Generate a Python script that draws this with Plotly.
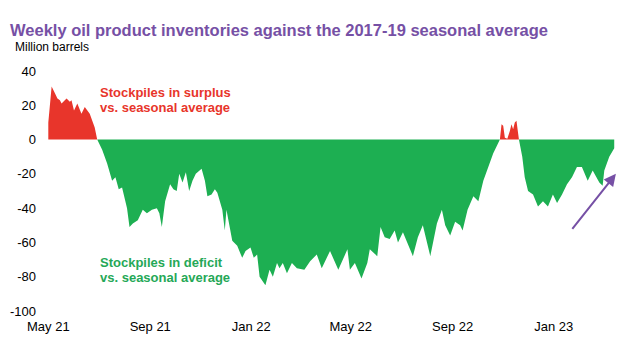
import plotly.graph_objects as go

dates = [
    "2021-05-01", "2021-05-05", "2021-05-09", "2021-05-12", "2021-05-15", "2021-05-17",
    "2021-05-23", "2021-05-27", "2021-05-29", "2021-06-01", "2021-06-05", "2021-06-10",
    "2021-06-14", "2021-06-20", "2021-06-26", "2021-06-29", "2021-07-05", "2021-07-11",
    "2021-07-17", "2021-07-21", "2021-07-25", "2021-07-29", "2021-08-04", "2021-08-07",
    "2021-08-11", "2021-08-17", "2021-08-23", "2021-08-28", "2021-09-03", "2021-09-09",
    "2021-09-12", "2021-09-15", "2021-09-19", "2021-09-25", "2021-09-29", "2021-10-03",
    "2021-10-06", "2021-10-10", "2021-10-14", "2021-10-18", "2021-10-22", "2021-10-26",
    "2021-11-02", "2021-11-06", "2021-11-09", "2021-11-14", "2021-11-18", "2021-11-21",
    "2021-11-27", "2021-11-30", "2021-12-02", "2021-12-09", "2021-12-15", "2021-12-21",
    "2021-12-25", "2021-12-31", "2022-01-04", "2022-01-08", "2022-01-11", "2022-01-15",
    "2022-01-18", "2022-01-23", "2022-01-27", "2022-02-01", "2022-02-04", "2022-02-08",
    "2022-02-13", "2022-02-19", "2022-02-25", "2022-03-06", "2022-03-13", "2022-03-21",
    "2022-03-27", "2022-04-06", "2022-04-16", "2022-04-27", "2022-04-30", "2022-05-06",
    "2022-05-14", "2022-05-21", "2022-05-24", "2022-06-02", "2022-06-06", "2022-06-11",
    "2022-06-17", "2022-06-23", "2022-06-27", "2022-07-03", "2022-07-09", "2022-07-15",
    "2022-07-21", "2022-07-27", "2022-08-05", "2022-08-13", "2022-08-19", "2022-08-23",
    "2022-08-29", "2022-09-04", "2022-09-10", "2022-09-13", "2022-09-19", "2022-09-26",
    "2022-10-02", "2022-10-08", "2022-10-14", "2022-10-20", "2022-10-26", "2022-10-28",
    "2022-10-30", "2022-11-01", "2022-11-03", "2022-11-06", "2022-11-09", "2022-11-11",
    "2022-11-13", "2022-11-15", "2022-11-17", "2022-11-18", "2022-11-20", "2022-11-24",
    "2022-11-27", "2022-12-01", "2022-12-07", "2022-12-13", "2022-12-19", "2022-12-25",
    "2022-12-31", "2023-01-05", "2023-01-11", "2023-01-17", "2023-01-23", "2023-01-29",
    "2023-02-04", "2023-02-11", "2023-02-17", "2023-02-25", "2023-03-01", "2023-03-03",
    "2023-03-09", "2023-03-15",
]
inventories = [
    10, 31, 27, 24, 23, 21,
    24, 22, 23, 17, 21, 15,
    19, 15, 7, 0, -6, -14,
    -24, -22, -29, -28, -40, -51,
    -49, -47, -41, -43, -41, -40,
    -43, -51, -36, -26, -29, -30,
    -20, -25, -19, -30, -24, -20,
    -17, -24, -33, -32, -29, -31,
    -41, -53, -41, -59, -62, -69,
    -65, -63, -69, -67, -80, -83,
    -85, -76, -80, -72, -75, -72,
    -78, -72, -75, -76, -71, -67,
    -75, -65, -76, -64, -76, -72,
    -81, -72, -64, -68, -51, -57,
    -58, -53, -60, -54, -61, -68,
    -57, -50, -68, -49, -41, -50,
    -56, -48, -50, -53, -41, -33,
    -36, -24, -16, -8, -2, 0,
    9, 8, 1, 0.5, 5, 9,
    6, 10, 11, 7, 0, -10,
    -22, -30, -32, -39, -36, -39,
    -32, -37, -32, -26, -22, -16,
    -16, -24, -18, -25, -27, -18,
    -10, -5,
]

tick_dates = ["2021-05-01", "2021-09-01", "2022-01-01", "2022-05-01", "2022-09-01", "2023-01-01"]
tick_labels = ["May 21", "Sep 21", "Jan 22", "May 22", "Sep 22", "Jan 23"]
y_ticks = [40, 20, 0, -20, -40, -60, -80, -100]
y_tick_labels = ["40", "20", "0", "-20", "-40", "-60", "-80", "-100"]

RED = "#E8352B"
GREEN = "#1DAF52"
GREEN_TEXT = "#25A857"
PURPLE = "#7650A5"
FONT = "Liberation Sans, Arial, sans-serif"

# page body has an 8px margin: figure pixel = reference pixel - 8
OFF = 8
L, T, R, B = 45 - OFF, 71 - OFF, 640 - (625 - OFF), 360 - (311 - OFF)

surplus = [max(v, 0) for v in inventories]
deficit = [min(v, 0) for v in inventories]

fig = go.Figure()
fig.add_trace(go.Scatter(x=dates, y=deficit, mode="lines", line=dict(width=0, color=GREEN),
                         fill="tozeroy", fillcolor=GREEN, hoverinfo="skip"))
fig.add_trace(go.Scatter(x=dates, y=surplus, mode="lines", line=dict(width=0, color=RED),
                         fill="tozeroy", fillcolor=RED, hoverinfo="skip"))


def label(text, y, color):
    return dict(text=f"<b>{text}</b>", x="2021-06-30", y=y, xref="x", yref="y",
                showarrow=False, xanchor="left", yanchor="middle", align="left",
                font=dict(size=13, color=color))


fig.update_layout(
    width=640, height=360,
    margin=dict(l=L, r=R, t=T, b=B, autoexpand=False),
    paper_bgcolor="white", plot_bgcolor="white",
    showlegend=False,
    font=dict(family=FONT, color="black", size=13),
    title=dict(text="<b>Weekly oil product inventories against the 2017-19 seasonal average</b>",
               font=dict(family=FONT, size=16.5, color=PURPLE),
               x=(10 - OFF) / 640, xanchor="left", xref="container",
               y=1 - (30 - OFF) / 360, yanchor="middle", yref="container"),
    xaxis=dict(type="date", range=["2021-04-27", "2023-03-28"],
               tickmode="array", tickvals=tick_dates, ticktext=tick_labels,
               showgrid=False, zeroline=False, showline=False, ticks="",
               automargin=False, ticklabelstandoff=6, tickfont=dict(size=13)),
    yaxis=dict(range=[-100, 40], tickmode="array", tickvals=y_ticks, ticktext=y_tick_labels,
               showgrid=False, zeroline=False, showline=False, ticks="",
               automargin=False, ticklabelstandoff=8, tickfont=dict(size=13)),
    annotations=[
        dict(text="Million barrels", xref="paper", yref="paper",
             x=(13 - 45) / 580, y=(311 - 47) / 240,
             showarrow=False, xanchor="left", yanchor="middle", font=dict(size=12)),
        label("Stockpiles in surplus", 27.6, RED),
        label("vs. seasonal average", 18.8, RED),
        label("Stockpiles in deficit", -71.6, GREEN_TEXT),
        label("vs. seasonal average", -80.3, GREEN_TEXT),
        dict(x="2023-03-17", y=-20, ax="2023-01-22", ay=-53, xref="x", yref="y",
             axref="x", ayref="y", showarrow=True, arrowhead=2, arrowsize=1.2,
             arrowwidth=2, arrowcolor=PURPLE, text=""),
    ],
)

fig.write_html("out.html")
